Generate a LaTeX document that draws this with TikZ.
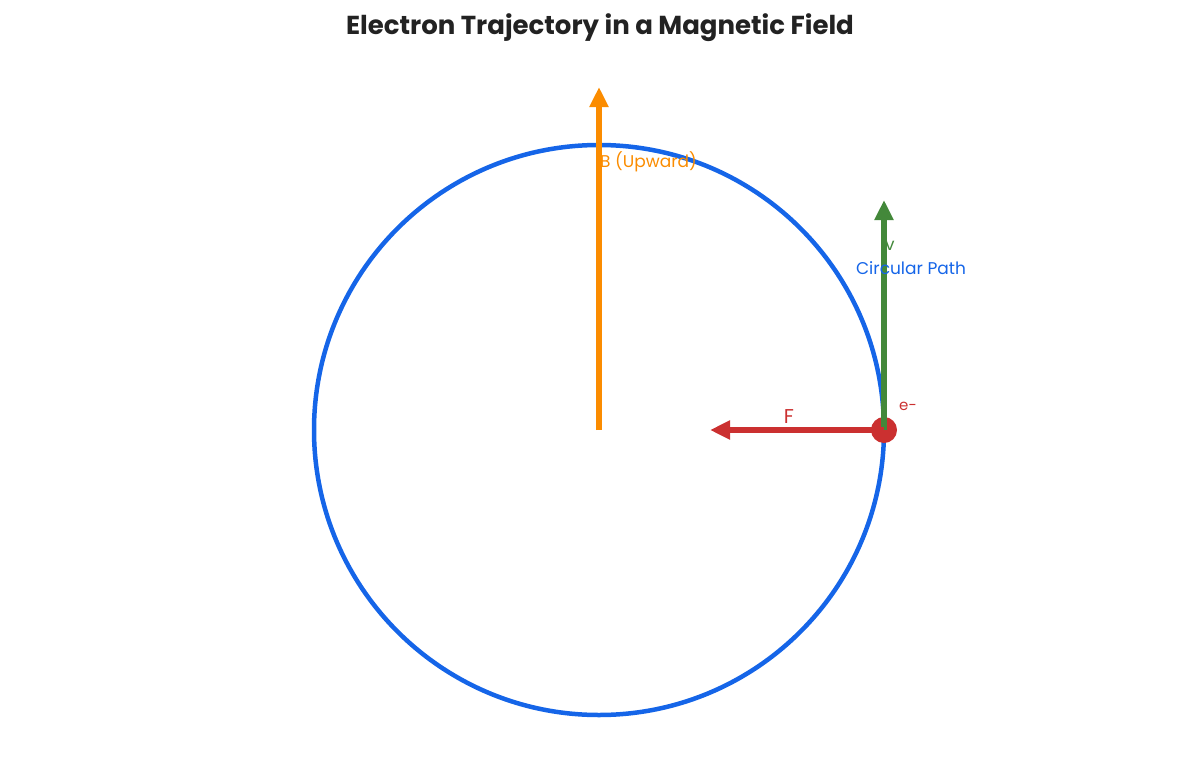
\documentclass[tikz,border=0pt]{standalone}
\usepackage{fontspec}
\setmainfont{Poppins}
\usetikzlibrary{arrows.meta}
\definecolor{pathblue}{HTML}{1565E8}
\definecolor{fieldorange}{HTML}{FB8C00}
\definecolor{velgreen}{HTML}{43883A}
\definecolor{forcered}{HTML}{CB3030}
\definecolor{titlegray}{HTML}{222222}
\begin{document}
\begin{tikzpicture}[x=1pt, y=-1pt,
    vec/.style={line width=6pt, -{Triangle[length=20pt, width=18pt]}},
    lbl/.style={font=\fontsize{17}{20}\selectfont, inner sep=0pt}
]
    \useasboundingbox (0,0) rectangle (1200,763);
    % Title
    \node[font=\bfseries\fontsize{26}{30}\selectfont, text=titlegray] (title) at (600,28) {Electron Trajectory in a Magnetic Field};

    % Circular path
    \coordinate (centre) at (599,430);
    \draw[pathblue, line width=4.5pt] (centre) circle[radius=285];

    % Field vector
    \coordinate (btip) at (599,87);
    \draw[vec, fieldorange] (centre) -- (btip);
    \node[lbl, text=fieldorange, anchor=west] (blabel) at (600,162) {B (Upward)};

    % Electron
    \node[circle, fill=forcered, minimum size=26pt, inner sep=0pt] (electron) at (884,430) {};
    \node[lbl, text=forcered, font=\fontsize{15}{18}\selectfont] (elabel) at (908,406) {e-};

    % Velocity and force
    \coordinate (vtip) at (884,200);
    \coordinate (ftip) at (710,430);
    \draw[vec, velgreen] (electron.center) -- (vtip);
    \draw[vec, forcered] (electron.center) -- (ftip);
    \node[lbl, text=velgreen] (vlabel) at (890,246) {v};
    \node[lbl, text=pathblue] (plabel) at (911,268) {Circular Path};
    \node[lbl, text=forcered, font=\fontsize{20}{24}\selectfont] (flabel) at (789,417) {F};
\end{tikzpicture}
\end{document}
